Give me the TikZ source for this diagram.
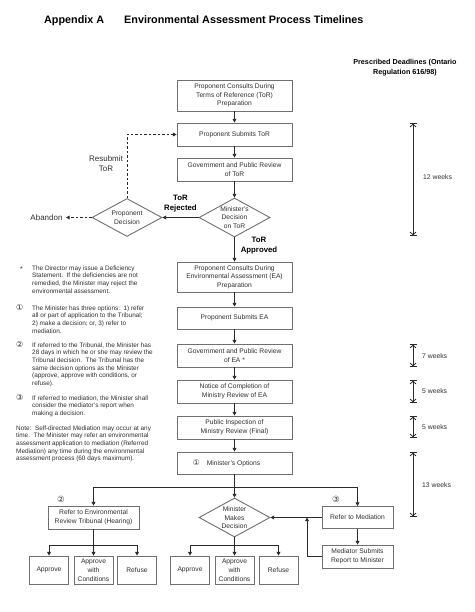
\documentclass[tikz,border=0pt]{standalone}
\usepackage{fontspec}
\setmainfont{Liberation Sans}
\newfontfamily\dejavu{DejaVu Sans}
\usetikzlibrary{shapes.geometric,arrows.meta}
\definecolor{lncol}{HTML}{2A2A2A}
\definecolor{bxcol}{HTML}{707070}
\definecolor{txcol}{HTML}{303030}
\begin{document}
\begin{tikzpicture}[x=1pt,y=-1pt,
  box/.style={draw=bxcol,line width=0.9pt,fill=white,minimum width=115pt,inner sep=0pt,text=txcol,font=\fontsize{6.7}{8.7}\selectfont,align=center},
  smallbox/.style={box,minimum width=39pt,minimum height=28pt,font=\fontsize{6.7}{9}\selectfont},
  dia/.style={draw=bxcol,line width=0.9pt,fill=white,diamond,minimum width=71pt,minimum height=39pt,inner sep=0pt},
  dtext/.style={text=txcol,font=\fontsize{6.7}{8.5}\selectfont,align=center,inner sep=0pt},
  arr/.style={draw=lncol,line width=0.8pt,-{Triangle[length=3.6pt,width=3.8pt]}},
  dsh/.style={arr,dash pattern=on 2.5pt off 2pt},
  plain/.style={draw=lncol,line width=0.8pt},
  side/.style={text=txcol,font=\fontsize{8}{10}\selectfont,align=center},
  sidebold/.style={text=black,font=\bfseries\fontsize{7.8}{10}\selectfont,align=center},
  note/.style={anchor=north west,text=txcol,font=\fontsize{6.4}{7.7}\selectfont,align=left,inner sep=0pt},
  notemark/.style={anchor=west,text=txcol,font=\dejavu\fontsize{8}{9}\selectfont,inner sep=0pt},
  wkspan/.style={draw=lncol,line width=0.8pt,{Bar[width=7pt]Straight Barb[length=2.6pt,width=6pt]}-{Straight Barb[length=2.6pt,width=6pt]Bar[width=7pt]}},
  wk/.style={anchor=west,text=txcol,font=\fontsize{6.8}{8}\selectfont,inner sep=0pt}
]
\useasboundingbox[fill=white] (0,0) rectangle (474,612);

% title
\node[anchor=base west,inner sep=0pt,font=\bfseries\fontsize{10.8}{13}\selectfont] (tA) at (44,24) {Appendix A};
\node[anchor=base west,inner sep=0pt,font=\bfseries\fontsize{10.8}{13}\selectfont] (tB) at (124,24) {Environmental Assessment Process Timelines};
\node[align=center,inner sep=0pt,font=\bfseries\fontsize{7.2}{10}\selectfont] (pd) at (405,68) {Prescribed Deadlines (Ontario\\Regulation 616/98)};

% main column
\node[box,minimum height=31pt] (b1) at (234.5,95.5) {Proponent Consults During\\Terms of Reference (ToR)\\Preparation};
\node[box,minimum height=23pt] (b2) at (234.5,134.5) {Proponent Submits ToR};
\node[box,minimum height=23pt] (b3) at (234.5,169.5) {Government and Public Review\\of ToR};
\node[dia] (d1) at (234.5,217.5) {};
\node[dtext] (d1t) at (d1) {Minister's\\Decision\\on ToR};
\node[dia,minimum width=70pt,minimum height=38pt] (d0) at (127,217.5) {};
\node[dtext] (d0t) at (d0) {Proponent\\Decision};
\node[side] (ab) at (46.5,217.5) {Abandon};
\node[side] (rs) at (106,164) {Resubmit\\ToR};
\node[sidebold] (rj) at (180.5,204) {ToR\\Rejected};
\node[sidebold] (ap) at (259,246) {ToR\\Approved};

\node[box,minimum height=30pt] (b4) at (234.5,277) {Proponent Consults During\\Environmental Assessment (EA)\\Preparation};
\node[box,minimum height=22pt] (b5) at (234.5,318) {Proponent Submits EA};
\node[box,minimum height=23pt] (b6) at (234.5,355.5) {Government and Public Review\\of EA *};
\node[box,minimum height=23pt] (b7) at (234.5,391.5) {Notice of Completion of\\Ministry Review of EA};
\node[box,minimum height=23pt] (b8) at (234.5,427.5) {Public Inspection of\\Ministry Review (Final)};
\node[box,minimum height=22pt] (b9) at (234.5,463) {{\dejavu\fontsize{7.8}{8}\selectfont ①}\hspace{7pt}Minister's Options\hspace{16pt}};

\draw[arr] (b1) -- (b2);
\draw[arr] (b2) -- (b3);
\draw[arr] (b3) -- (d1);
\draw[arr] (d1) -- (d0);
\draw[dsh] (d0) -- (ab);
\draw[dsh] (d0.north) |- (b2.west);
\draw[arr] (d1) -- (b4);
\draw[arr] (b4) -- (b5);
\draw[arr] (b5) -- (b6);
\draw[arr] (b6) -- (b7);
\draw[arr] (b7) -- (b8);
\draw[arr] (b8) -- (b9);

% bottom
\node[dia] (d2) at (234.5,517.5) {};
\node[dtext] (d2t) at (234.5,518) {Minister\\Makes\\Decision};
\node[box,minimum width=71pt,minimum height=22pt] (med) at (357.5,517.5) {Refer to Mediation};
\node[box,minimum width=71pt,minimum height=23pt] (mds) at (357.5,556.5) {Mediator Submits\\Report to Minister};
\node[box,minimum width=91pt,minimum height=23pt] (trib) at (93.5,517.5) {Refer to Environmental\\Review Tribunal (Hearing)};
\node[text=txcol,font=\dejavu\fontsize{8.5}{9}\selectfont,inner sep=0pt] (n2) at (61,499) {②};
\node[text=txcol,font=\dejavu\fontsize{8.5}{9}\selectfont,inner sep=0pt] (n3) at (336,499) {③};

\node[smallbox] (ta) at (49,570) {Approve};
\node[smallbox] (tc) at (93.5,570) {Approve\\with\\Conditions};
\node[smallbox] (tr) at (137,570) {Refuse};
\node[smallbox] (ma) at (190,570) {Approve};
\node[smallbox] (mc) at (234.5,570) {Approve\\with\\Conditions};
\node[smallbox] (mr) at (278.5,570) {Refuse};

\coordinate (split) at (234.5,487);
\coordinate (tsplit) at (93.5,545);
\coordinate (msplit) at (234.5,545);
\coordinate (mj) at (307,517.5);

\draw[plain] (b9) -- (split);
\draw[arr] (split) -- (d2);
\draw[arr] (split) -| (trib);
\draw[arr] (split) -| (med);
\draw[arr] (med) -- (d2);
\draw[arr] (med) -- (mds);
\draw[arr] (mds.west) -| (mj);

\draw[plain] (trib) -- (tsplit);
\draw[arr] (tsplit) -| (ta);
\draw[arr] (tsplit) -- (tc);
\draw[arr] (tsplit) -| (tr);
\draw[plain] (d2) -- (msplit);
\draw[arr] (msplit) -| (ma);
\draw[arr] (msplit) -- (mc);
\draw[arr] (msplit) -| (mr);

% notes
\node[notemark,font=\fontsize{7}{8}\selectfont] (m0) at (20,269) {*};
\node[note] (t0) at (32,265.4) {The Director may issue a Deficiency\\Statement.\ \ If the deficiencies are not\\remedied, the Minister may reject the\\environmental assessment.};
\node[notemark] (m1) at (16,308) {①};
\node[note] (t1) at (32,305.3) {The Minister has three options:\ \ 1) refer\\all or part of application to the Tribunal;\\2) make a decision; or, 3) refer to\\mediation.};
\node[notemark] (m2) at (16,345) {②};
\node[note] (t2) at (32,342.3) {If referred to the Tribunal, the Minister has\\28 days in which he or she may review the\\Tribunal decision.\ \ The Tribunal has the\\same decision options as the Minister\\(approve, approve with conditions, or\\refuse).};
\node[notemark] (m3) at (16,398) {③};
\node[note] (t3) at (32,395.3) {If referred to mediation, the Minister shall\\consider the mediator's report when\\making a decision.};
\node[note] (t4) at (16,425.3) {Note:\ \ Self-directed Mediation may occur at any\\time.\ \ The Minister may refer an environmental\\assessment application to mediation (Referred\\Mediation) any time during the environmental\\assessment process (60 days maximum).};

% weeks
\coordinate (w1a) at (413,123); \coordinate (w1b) at (413,236);
\coordinate (w2a) at (413,344); \coordinate (w2b) at (413,367);
\coordinate (w3a) at (413,380); \coordinate (w3b) at (413,403);
\coordinate (w4a) at (413,416); \coordinate (w4b) at (413,438);
\coordinate (w5a) at (413,452); \coordinate (w5b) at (413,517);
\draw[wkspan] (w1a) -- (w1b);
\draw[wkspan] (w2a) -- (w2b);
\draw[wkspan] (w3a) -- (w3b);
\draw[wkspan] (w4a) -- (w4b);
\draw[wkspan] (w5a) -- (w5b);
\node[wk] (k1) at (423,177) {12 weeks};
\node[wk] (k2) at (422,356) {7 weeks};
\node[wk] (k3) at (422,391) {5 weeks};
\node[wk] (k4) at (422,427) {5 weeks};
\node[wk] (k5) at (422,485) {13 weeks};
\end{tikzpicture}
\end{document}
